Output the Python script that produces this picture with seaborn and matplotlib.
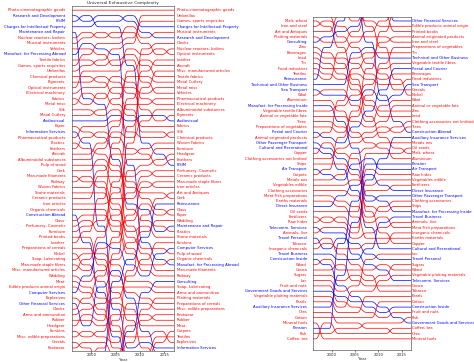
import numpy as np
import matplotlib
matplotlib.use("Agg")
import matplotlib.pyplot as plt
from matplotlib.path import Path
from matplotlib.patches import PathPatch
import seaborn as sns

# anchor years of the rank table
years = [1996, 1999, 2002, 2005, 2008, 2011, 2014, 2017]

# services are drawn in blue, goods in red
services = [
    "Research and Development", "FISIM", "Charges for Intellectual Property",
    "Maintenance and Repair", "Manufact. for Processing Abroad", "Audiovisual",
    "Information Services", "Construction Abroad", "Computer Services",
    "Other Financial Services", "Consulting", "Reinsurance",
    "Technical and Other Business", "Sea Transport", "Manufact. for Processing Inside",
    "Postal and Courier", "Other Passenger Transport", "Cultural and Recreational",
    "Air Transport", "Direct Insurance", "Telecomm. Services", "Travel Personal",
    "Travel Business", "Construction Inside", "Government Goods and Services",
    "Auxiliary Insurance Services", "Pension",
]

# rank read at each anchor year (first = left labels, last = right labels)
paths_top = [
    ("Photo-cinematographic goods", [1, 1, 1, 1, 1, 1, 1, 1]),
    ("Research and Development", [2, 3, 2, 2, 4, 5, 6, 6]),
    ("FISIM", [3, 2, 4, 5, 14, 24, 27, 29]),
    ("Charges for Intellectual Property", [4, 5, 3, 3, 3, 4, 4, 4]),
    ("Maintenance and Repair", [5, 18, 20, 30, 35, 38, 41, 40]),
    ("Nuclear reactors, boilers", [6, 6, 7, 6, 6, 8, 9, 8]),
    ("Musical instruments", [7, 7, 6, 7, 5, 6, 5, 5]),
    ("Vehicles", [8, 9, 10, 12, 13, 15, 16, 16]),
    ("Manufact. for Processing Abroad", [9, 8, 9, 10, 30, 42, 45, 47]),
    ("Textile fabrics", [10, 11, 12, 11, 12, 12, 13, 13]),
    ("Games, sports requisites", [11, 10, 8, 8, 7, 3, 3, 3]),
    ("Umbrellas", [12, 12, 11, 9, 8, 2, 2, 2]),
    ("Chemical products", [13, 14, 16, 18, 20, 22, 23, 24]),
    ("Pigments", [14, 15, 14, 16, 18, 19, 21, 20]),
    ("Optical instruments", [15, 13, 13, 13, 10, 10, 8, 9]),
    ("Electrical machinery", [16, 16, 17, 15, 16, 17, 18, 18]),
    ("Fabrics", [17, 19, 18, 20, 21, 21, 22, 22]),
    ("Metal misc", [18, 17, 19, 17, 17, 16, 15, 15]),
    ("Silk", [19, 20, 22, 21, 23, 23, 24, 23]),
    ("Metal Cutlery", [20, 21, 21, 19, 15, 14, 14, 14]),
    ("Audiovisual", [21, 22, 23, 22, 22, 20, 20, 21]),
    ("Paper", [22, 24, 26, 28, 32, 35, 37, 38]),
    ("Information Services", [23, 26, 40, 55, 60, 61, 62, 62]),
    ("Pharmaceutical products", [24, 23, 24, 23, 19, 18, 17, 17]),
    ("Plastics", [25, 27, 29, 31, 36, 39, 40, 41]),
    ("Feathers", [26, 25, 25, 26, 26, 27, 28, 28]),
    ("Aircraft", [27, 28, 27, 24, 14, 11, 11, 11]),
    ("Albuminoidal substances", [28, 29, 28, 25, 24, 20, 19, 19]),
    ("Pulp of wood", [29, 30, 31, 34, 38, 42, 44, 45]),
    ("Cork", [30, 31, 30, 32, 33, 34, 35, 35]),
    ("Man-made filaments", [31, 33, 34, 36, 40, 44, 47, 48]),
    ("Railway", [32, 32, 35, 38, 42, 46, 48, 49]),
    ("Woven Fabrics", [33, 34, 32, 29, 27, 26, 25, 25]),
    ("Stone materials", [34, 35, 36, 37, 39, 40, 42, 42]),
    ("Ceramic products", [35, 36, 33, 33, 31, 30, 31, 31]),
    ("Iron articles", [36, 37, 37, 35, 34, 33, 33, 33]),
    ("Organic chemicals", [37, 38, 38, 40, 43, 45, 46, 46]),
    ("Construction Abroad", [38, 44, 52, 58, 66, 75, 82, 84]),
    ("Glass", [39, 39, 39, 39, 37, 36, 38, 37]),
    ("Perfumery, Cosmetic", [40, 40, 41, 37, 33, 31, 30, 30]),
    ("Furniture", [41, 41, 39, 34, 29, 27, 26, 26]),
    ("Printed books", [42, 43, 47, 52, 57, 61, 64, 65]),
    ("Leather", [43, 42, 36, 27, 18, 12, 10, 10]),
    ("Preparations of cereals", [44, 45, 46, 49, 51, 53, 54, 54]),
    ("Nickel", [45, 47, 50, 56, 62, 68, 74, 77]),
    ("Soap, Lubricating", [46, 46, 45, 47, 49, 50, 51, 51]),
    ("Man-made staple fibres", [47, 48, 44, 41, 36, 33, 32, 32]),
    ("Misc. manufactured articles", [48, 46, 42, 33, 22, 15, 12, 12]),
    ("Wadding", [49, 50, 48, 45, 41, 40, 39, 39]),
    ("Meat", [50, 51, 53, 54, 55, 57, 58, 58]),
    ("Edible products animal origin", [51, 52, 55, 59, 61, 62, 63, 64]),
    ("Computer Services", [52, 49, 43, 42, 45, 47, 44, 44]),
    ("Explosives", [53, 54, 56, 57, 58, 59, 60, 61]),
    ("Other Financial Services", [54, 58, 51, 48, 52, 58, 62, 63]),
    ("Clocks", [55, 53, 49, 40, 25, 9, 7, 7]),
    ("Arms and ammunition", [56, 55, 54, 51, 50, 51, 52, 52]),
    ("Rubber", [57, 57, 58, 55, 56, 56, 57, 57]),
    ("Headgear", [58, 56, 57, 43, 30, 28, 27, 27]),
    ("Furskins", [59, 60, 59, 53, 47, 44, 43, 43]),
    ("Misc. edible preparations", [60, 59, 60, 58, 54, 55, 55, 55]),
    ("Cereals", [61, 62, 64, 66, 69, 72, 75, 76]),
    ("Footwear", [62, 61, 61, 60, 57, 56, 56, 56]),
]

paths_bottom = [
    ("Malt, wheat", [63, 64, 67, 72, 78, 84, 87, 88]),
    ("Iron and steel", [64, 63, 63, 64, 65, 66, 67, 67]),
    ("Art and Antiques", [65, 65, 62, 55, 45, 38, 35, 34]),
    ("Plaiting materials", [66, 67, 65, 63, 59, 55, 53, 53]),
    ("Consulting", [67, 66, 63, 61, 57, 52, 50, 50]),
    ("Zinc", [68, 69, 70, 73, 76, 78, 80, 80]),
    ("Beverages", [69, 70, 69, 70, 71, 72, 73, 73]),
    ("Lead", [70, 71, 72, 74, 77, 79, 81, 81]),
    ("Tin", [71, 72, 71, 69, 68, 69, 69, 69]),
    ("Food industries", [72, 73, 73, 71, 72, 73, 74, 74]),
    ("Textiles", [73, 74, 68, 65, 63, 61, 60, 60]),
    ("Reinsurance", [74, 68, 62, 50, 44, 40, 36, 36]),
    ("Technical and Other Business", [75, 75, 74, 68, 67, 70, 70, 70]),
    ("Sea Transport", [76, 78, 77, 76, 74, 75, 75, 75]),
    ("Wool", [77, 76, 76, 77, 79, 77, 78, 78]),
    ("Aluminium", [78, 79, 80, 82, 85, 87, 89, 89]),
    ("Manufact. for Processing Inside", [79, 80, 82, 88, 94, 97, 99, 99]),
    ("Vegetable textile fibres", [80, 81, 79, 75, 73, 71, 71, 71]),
    ("Animal or vegetable fats", [81, 82, 81, 80, 80, 80, 79, 79]),
    ("Trees", [82, 83, 83, 84, 83, 82, 83, 83]),
    ("Preparations of vegetables", [83, 84, 84, 79, 75, 70, 68, 68]),
    ("Postal and Courier", [84, 86, 86, 81, 77, 74, 72, 72]),
    ("Animal originated products", [85, 85, 78, 70, 68, 67, 66, 66]),
    ("Other Passenger Transport", [86, 88, 90, 92, 95, 96, 96, 96]),
    ("Cultural and Recreational", [87, 89, 92, 96, 100, 104, 106, 106]),
    ("Copper", [88, 87, 88, 90, 97, 102, 105, 105]),
    ("Clothing accessories not knitted", [89, 90, 87, 86, 84, 83, 82, 82]),
    ("Ships", [90, 91, 91, 93, 96, 98, 98, 98]),
    ("Air Transport", [91, 93, 94, 91, 90, 91, 91, 91]),
    ("Carpets", [92, 92, 85, 78, 70, 64, 60, 59]),
    ("Metals nes", [93, 94, 93, 89, 87, 86, 86, 86]),
    ("Vegetables edible", [94, 95, 95, 94, 93, 93, 93, 93]),
    ("Clothing accessories", [95, 96, 96, 97, 98, 97, 97, 97]),
    ("Meat Fish preparations", [96, 97, 98, 98, 99, 100, 102, 102]),
    ("Earths materials", [97, 98, 99, 100, 102, 103, 104, 104]),
    ("Direct Insurance", [98, 99, 97, 95, 92, 94, 95, 95]),
    ("Oil seeds", [99, 100, 100, 99, 89, 88, 87, 87]),
    ("Fertilizers", [100, 101, 101, 101, 93, 95, 94, 94]),
    ("Raw hides", [101, 100, 102, 102, 91, 92, 92, 92]),
    ("Telecomm. Services", [102, 103, 104, 106, 108, 110, 112, 112]),
    ("Animals, live", [103, 102, 103, 103, 101, 101, 101, 101]),
    ("Travel Personal", [104, 106, 105, 104, 106, 107, 108, 108]),
    ("Tobacco", [105, 104, 107, 108, 110, 113, 114, 114]),
    ("Inorganic chemicals", [106, 105, 106, 105, 103, 103, 103, 103]),
    ("Travel Business", [107, 108, 108, 107, 104, 100, 100, 100]),
    ("Construction Inside", [108, 110, 112, 114, 116, 117, 117, 117]),
    ("Wood", [109, 109, 110, 109, 109, 109, 110, 110]),
    ("Cocoa", [110, 111, 109, 111, 112, 112, 113, 113]),
    ("Sugars", [111, 112, 111, 110, 111, 110, 109, 109]),
    ("Lac", [112, 113, 113, 112, 107, 106, 107, 107]),
    ("Fruit and nuts", [113, 114, 115, 116, 117, 118, 118, 118]),
    ("Government Goods and Services", [114, 115, 114, 115, 115, 116, 119, 120]),
    ("Vegetable plaiting materials", [115, 116, 116, 113, 113, 111, 111, 111]),
    ("Pearls", [116, 117, 117, 117, 114, 114, 115, 115]),
    ("Auxiliary Insurance Services", [117, 118, 110, 100, 92, 88, 85, 85]),
    ("Ores", [118, 119, 119, 119, 120, 121, 122, 122]),
    ("Cotton", [119, 120, 118, 118, 118, 115, 116, 116]),
    ("Mineral fuels", [120, 123, 123, 123, 123, 123, 123, 123]),
    ("Pension", [121, 121, 105, 97, 90, 90, 90, 90]),
    ("Fish", [122, 122, 120, 120, 119, 119, 120, 119]),
    ("Coffee, tea", [123, 120, 121, 121, 121, 122, 121, 121]),
]

sns.set_theme(style="white")
plt.rcParams["font.family"] = ["DejaVu Sans"]

names = [n for n, _ in paths_top + paths_bottom]
est = np.array([v for _, v in paths_top + paths_bottom], dtype=float)
start = est[:, 0]
ranks = np.zeros_like(est)
for j in range(est.shape[1]):
    order = np.lexsort((start, est[:, j]))
    ranks[order, j] = np.arange(1, len(names) + 1)

colors = ["blue" if n in services else "red" for n in names]


def bump_path(xs, rs, flat=0.55):
    verts = [(xs[0], rs[0])]
    codes = [Path.MOVETO]
    for i in range(len(xs) - 1):
        a = xs[i] + flat
        b = xs[i + 1] - flat
        m = (a + b) / 2
        verts += [(a, rs[i]), (m, rs[i]), (m, rs[i + 1]), (b, rs[i + 1])]
        codes += [Path.LINETO, Path.CURVE4, Path.CURVE4, Path.CURVE4]
    verts.append((xs[-1], rs[-1]))
    codes.append(Path.LINETO)
    return Path(verts, codes)


fig = plt.figure(figsize=(4.74, 3.62), dpi=100)
ax1 = fig.add_axes([72 / 474, 11 / 362, 102 / 474, 345 / 362])
ax2 = fig.add_axes([313 / 474, 12 / 362, 98 / 474, 333 / 362])

panels = [(ax1, 1, 62, (62.55, 0.25), 0.065, 1.03), (ax2, 63, 123, (125.1, 62.25), 0.06, 1.01)]
fs = 2.7

for ax, lo, hi, ylim, lpad, rpad in panels:
    for i, n in enumerate(names):
        p = bump_path(years, ranks[i])
        ax.add_patch(PathPatch(p, fill=False, edgecolor=colors[i], lw=0.5))
        r0, r1 = ranks[i, 0], ranks[i, -1]
        if lo <= r0 <= hi:
            ax.text(-lpad, r0, n, transform=ax.get_yaxis_transform(), ha="right",
                    va="center", fontsize=fs, color=colors[i])
        if lo <= r1 <= hi:
            ax.text(rpad, r1, n, transform=ax.get_yaxis_transform(), ha="left",
                    va="center", fontsize=fs, color=colors[i])
    ax.set_xlim(1996, 2017)
    ax.set_ylim(*ylim)
    ax.set_yticks([])
    ax.set_xticks([2000, 2005, 2010, 2015])
    ax.tick_params(axis="x", labelsize=2.8, length=1.2, width=0.4, pad=0.6, bottom=True)
    ax.set_xlabel("Year", fontsize=2.8, labelpad=0.5)
    for s in ax.spines.values():
        s.set_linewidth(0.45)
        s.set_color("0.3")

ax1.set_title("Universal Exhaustive Complexity", fontsize=3.2, pad=1.5)

fig.savefig("out.png", dpi=100)
